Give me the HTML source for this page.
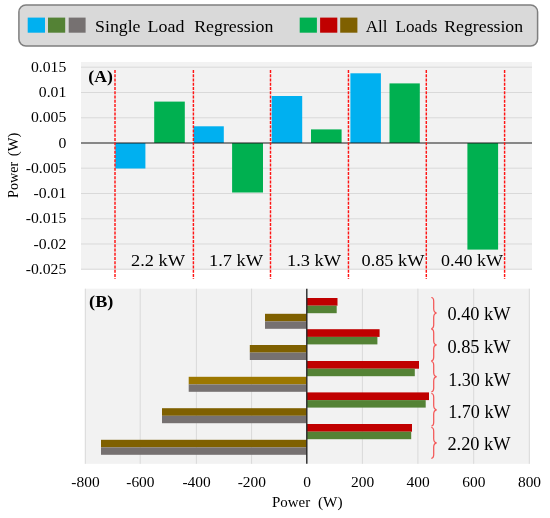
<!DOCTYPE html>
<html lang="en"><head><meta charset="utf-8"><title>Regression power chart</title>
<style>html,body{margin:0;padding:0;background:#fff}svg{display:block}</style></head>
<body>
<svg width="550" height="518" viewBox="0 0 550 518" font-family='"Liberation Serif", "Times New Roman", serif' fill="#000">
<rect width="550" height="518" fill="#fff"/>
<g id="legend">
<rect x="18.9" y="4.9" width="518.7" height="41.2" rx="7" ry="7" fill="#d9d9d9" stroke="#7f7f7f" stroke-width="1.5"/>
<rect x="27.7" y="17.6" width="17.3" height="15.1" fill="#00b0f0"/>
<rect x="48.0" y="17.6" width="17.2" height="15.1" fill="#548235"/>
<rect x="68.7" y="17.6" width="16.9" height="15.1" fill="#767171"/>
<rect x="299.7" y="17.6" width="17.2" height="15.1" fill="#00b050"/>
<rect x="320.1" y="17.6" width="17.2" height="15.1" fill="#c00000"/>
<rect x="340.2" y="17.6" width="17.2" height="15.1" fill="#7f6000"/>
<text x="95.1" y="31.8" font-size="17.7" textLength="45.4" lengthAdjust="spacingAndGlyphs">Single</text>
<text x="147.6" y="31.8" font-size="17.7" textLength="36.8" lengthAdjust="spacingAndGlyphs">Load</text>
<text x="194.2" y="31.8" font-size="17.7" textLength="79.2" lengthAdjust="spacingAndGlyphs">Regression</text>
<text x="365.8" y="31.8" font-size="17.7" textLength="21.8" lengthAdjust="spacingAndGlyphs">All</text>
<text x="395.6" y="31.8" font-size="17.7" textLength="41.8" lengthAdjust="spacingAndGlyphs">Loads</text>
<text x="444.3" y="31.8" font-size="17.7" textLength="78.8" lengthAdjust="spacingAndGlyphs">Regression</text>
</g>
<g id="plotA">
<rect x="81" y="62" width="451" height="207.89999999999998" fill="#f2f2f2"/>
<line x1="81" x2="532" y1="67.2" y2="67.2" stroke="#d9d9d9" stroke-width="1"/>
<text transform="translate(66.3,71.8) scale(1.085,1)" font-size="14.5" text-anchor="end">0.015</text>
<line x1="81" x2="532" y1="92.5" y2="92.5" stroke="#d9d9d9" stroke-width="1"/>
<text transform="translate(66.3,97.1) scale(1.085,1)" font-size="14.5" text-anchor="end">0.01</text>
<line x1="81" x2="532" y1="117.8" y2="117.8" stroke="#d9d9d9" stroke-width="1"/>
<text transform="translate(66.3,122.3) scale(1.085,1)" font-size="14.5" text-anchor="end">0.005</text>
<text transform="translate(66.3,147.6) scale(1.085,1)" font-size="14.5" text-anchor="end">0</text>
<line x1="81" x2="532" y1="168.2" y2="168.2" stroke="#d9d9d9" stroke-width="1"/>
<text transform="translate(66.3,172.8) scale(1.085,1)" font-size="14.5" text-anchor="end">-0.005</text>
<line x1="81" x2="532" y1="193.5" y2="193.5" stroke="#d9d9d9" stroke-width="1"/>
<text transform="translate(66.3,198.1) scale(1.085,1)" font-size="14.5" text-anchor="end">-0.01</text>
<line x1="81" x2="532" y1="218.8" y2="218.8" stroke="#d9d9d9" stroke-width="1"/>
<text transform="translate(66.3,223.3) scale(1.085,1)" font-size="14.5" text-anchor="end">-0.015</text>
<line x1="81" x2="532" y1="244.0" y2="244.0" stroke="#d9d9d9" stroke-width="1"/>
<text transform="translate(66.3,248.6) scale(1.085,1)" font-size="14.5" text-anchor="end">-0.02</text>
<line x1="81" x2="532" y1="269.2" y2="269.2" stroke="#d9d9d9" stroke-width="1"/>
<text transform="translate(66.3,273.9) scale(1.085,1)" font-size="14.5" text-anchor="end">-0.025</text>
<rect x="115.3" y="143.0" width="30.1" height="25.5" fill="#00b0f0"/>
<rect x="154.2" y="101.6" width="30.6" height="41.4" fill="#00b050"/>
<rect x="193.5" y="126.3" width="30.3" height="16.7" fill="#00b0f0"/>
<rect x="232.1" y="143.0" width="30.9" height="49.5" fill="#00b050"/>
<rect x="271.7" y="96.0" width="30.5" height="47.0" fill="#00b0f0"/>
<rect x="311.0" y="129.4" width="30.6" height="13.6" fill="#00b050"/>
<rect x="350.4" y="73.3" width="30.5" height="69.7" fill="#00b0f0"/>
<rect x="389.5" y="83.4" width="30.3" height="59.6" fill="#00b050"/>
<rect x="467.4" y="143.0" width="30.7" height="106.6" fill="#00b050"/>
<line x1="81" x2="532" y1="143.0" y2="143.0" stroke="#1c1c1c" stroke-width="1.2"/>
<line x1="115" x2="115" y1="70" y2="278.9" stroke="#ff1414" stroke-width="1.45" stroke-dasharray="3.1 1.15"/>
<line x1="193.4" x2="193.4" y1="70" y2="278.9" stroke="#ff1414" stroke-width="1.45" stroke-dasharray="3.1 1.15"/>
<line x1="270.5" x2="270.5" y1="70" y2="278.9" stroke="#ff1414" stroke-width="1.45" stroke-dasharray="3.1 1.15"/>
<line x1="348.45" x2="348.45" y1="70" y2="278.9" stroke="#ff1414" stroke-width="1.45" stroke-dasharray="3.1 1.15"/>
<line x1="426.3" x2="426.3" y1="70" y2="278.9" stroke="#ff1414" stroke-width="1.45" stroke-dasharray="3.1 1.15"/>
<line x1="504.6" x2="504.6" y1="70" y2="278.9" stroke="#ff1414" stroke-width="1.45" stroke-dasharray="3.1 1.15"/>
<text x="131" y="266.1" font-size="17.2" textLength="54.0" lengthAdjust="spacingAndGlyphs">2.2 kW</text>
<text x="209" y="266.1" font-size="17.2" textLength="54.0" lengthAdjust="spacingAndGlyphs">1.7 kW</text>
<text x="287" y="266.1" font-size="17.2" textLength="54.0" lengthAdjust="spacingAndGlyphs">1.3 kW</text>
<text x="361.5" y="266.1" font-size="17.2" textLength="62.9" lengthAdjust="spacingAndGlyphs">0.85 kW</text>
<text x="441" y="266.1" font-size="17.2" textLength="62.0" lengthAdjust="spacingAndGlyphs">0.40 kW</text>
<text transform="translate(88.3,82.1) scale(1.055,1)" font-size="16.8" font-weight="bold">(A)</text>
<text transform="translate(18.2,197.9) rotate(-90)" font-size="14.3" textLength="36.2" lengthAdjust="spacingAndGlyphs">Power</text>
<text transform="translate(18.2,156.2) rotate(-90)" font-size="14.3" textLength="23.6" lengthAdjust="spacingAndGlyphs">(W)</text>
</g>
<g id="plotB">
<rect x="84.9" y="288.7" width="445.0" height="175.10000000000002" fill="#f2f2f2"/>
<line x1="85.3" x2="85.3" y1="288.7" y2="463.8" stroke="#d9d9d9" stroke-width="1"/>
<text transform="translate(85.5,487.1) scale(1.065,1)" font-size="14.5" text-anchor="middle">-800</text>
<line x1="140.2" x2="140.2" y1="288.7" y2="463.8" stroke="#d9d9d9" stroke-width="1"/>
<text transform="translate(140.4,487.1) scale(1.065,1)" font-size="14.5" text-anchor="middle">-600</text>
<line x1="196.4" x2="196.4" y1="288.7" y2="463.8" stroke="#d9d9d9" stroke-width="1"/>
<text transform="translate(196.6,487.1) scale(1.065,1)" font-size="14.5" text-anchor="middle">-400</text>
<line x1="251.6" x2="251.6" y1="288.7" y2="463.8" stroke="#d9d9d9" stroke-width="1"/>
<text transform="translate(251.8,487.1) scale(1.065,1)" font-size="14.5" text-anchor="middle">-200</text>
<text transform="translate(307.0,487.1) scale(1.065,1)" font-size="14.5" text-anchor="middle">0</text>
<line x1="362.4" x2="362.4" y1="288.7" y2="463.8" stroke="#d9d9d9" stroke-width="1"/>
<text transform="translate(362.6,487.1) scale(1.065,1)" font-size="14.5" text-anchor="middle">200</text>
<line x1="417.9" x2="417.9" y1="288.7" y2="463.8" stroke="#d9d9d9" stroke-width="1"/>
<text transform="translate(418.1,487.1) scale(1.065,1)" font-size="14.5" text-anchor="middle">400</text>
<line x1="473.7" x2="473.7" y1="288.7" y2="463.8" stroke="#d9d9d9" stroke-width="1"/>
<text transform="translate(473.9,487.1) scale(1.065,1)" font-size="14.5" text-anchor="middle">600</text>
<line x1="529.3" x2="529.3" y1="288.7" y2="463.8" stroke="#d9d9d9" stroke-width="1"/>
<text transform="translate(529.5,487.1) scale(1.065,1)" font-size="14.5" text-anchor="middle">800</text>
<rect x="306.8" y="298.0" width="30.7" height="7.7" fill="#c00000"/>
<rect x="306.8" y="305.7" width="29.9" height="7.5" fill="#548235"/>
<rect x="265.0" y="313.8" width="41.8" height="7.6" fill="#7f6000"/>
<rect x="265.0" y="321.4" width="41.8" height="7.4" fill="#767171"/>
<rect x="306.8" y="329.2" width="72.8" height="7.7" fill="#c00000"/>
<rect x="306.8" y="336.9" width="70.6" height="7.5" fill="#548235"/>
<rect x="249.8" y="345.0" width="57.0" height="7.6" fill="#7f6000"/>
<rect x="249.8" y="352.6" width="57.0" height="7.4" fill="#767171"/>
<rect x="306.8" y="361.0" width="112.2" height="7.7" fill="#c00000"/>
<rect x="306.8" y="368.7" width="108.0" height="7.5" fill="#548235"/>
<rect x="188.7" y="376.8" width="118.1" height="7.6" fill="#9c7700"/>
<rect x="188.7" y="384.4" width="118.1" height="7.4" fill="#767171"/>
<rect x="306.8" y="392.4" width="122.2" height="7.7" fill="#c00000"/>
<rect x="306.8" y="400.1" width="118.9" height="7.5" fill="#548235"/>
<rect x="162.0" y="408.2" width="144.8" height="7.6" fill="#7f6000"/>
<rect x="162.0" y="415.8" width="144.8" height="7.4" fill="#767171"/>
<rect x="306.8" y="424.0" width="105.2" height="7.7" fill="#c00000"/>
<rect x="306.8" y="431.7" width="104.4" height="7.5" fill="#548235"/>
<rect x="101.0" y="439.8" width="205.8" height="7.6" fill="#7f6000"/>
<rect x="101.0" y="447.4" width="205.8" height="7.4" fill="#767171"/>
<line x1="306.8" x2="306.8" y1="288.7" y2="463.8" stroke="#262626" stroke-width="1.4"/>
<path d="M431.3,297.5 q2.4,0.2 2.4,3.8 V308.8 q0,3.6 2.9,4.2 q-2.9,0.6 -2.9,4.2 V324.7 q0,3.5999999999999996 -2.4,3.8" fill="none" stroke="#f45858" stroke-width="1.25"/>
<path d="M431.3,329.1 q2.4,0.2 2.4,3.8 V340.7 q0,3.6 2.9,4.2 q-2.9,0.6 -2.9,4.2 V356.9 q0,3.5999999999999996 -2.4,3.8" fill="none" stroke="#f45858" stroke-width="1.25"/>
<path d="M431.3,361.5 q2.4,0.2 2.4,3.8 V372.5 q0,3.6 2.9,4.2 q-2.9,0.6 -2.9,4.2 V388.1 q0,3.5999999999999996 -2.4,3.8" fill="none" stroke="#f45858" stroke-width="1.25"/>
<path d="M431.3,393.5 q2.4,0.2 2.4,3.8 V405.6 q0,3.6 2.9,4.2 q-2.9,0.6 -2.9,4.2 V422.2 q0,3.5999999999999996 -2.4,3.8" fill="none" stroke="#f45858" stroke-width="1.25"/>
<path d="M431.3,427.5 q2.4,0.2 2.4,3.8 V438.7 q0,3.6 2.9,4.2 q-2.9,0.6 -2.9,4.2 V454.5 q0,3.5999999999999996 -2.4,3.8" fill="none" stroke="#f45858" stroke-width="1.25"/>
<text x="447.4" y="320.2" font-size="17.8" textLength="63.2" lengthAdjust="spacingAndGlyphs">0.40 kW</text>
<text x="447.4" y="352.5" font-size="17.8" textLength="63.2" lengthAdjust="spacingAndGlyphs">0.85 kW</text>
<text x="448.2" y="385.5" font-size="17.8" textLength="62.4" lengthAdjust="spacingAndGlyphs">1.30 kW</text>
<text x="448.2" y="417.8" font-size="17.8" textLength="62.4" lengthAdjust="spacingAndGlyphs">1.70 kW</text>
<text x="447.4" y="450.1" font-size="17.8" textLength="63.2" lengthAdjust="spacingAndGlyphs">2.20 kW</text>
<text transform="translate(89.1,307.4) scale(1.09,1)" font-size="16.7" font-weight="bold">(B)</text>
<text x="272" y="507" font-size="15" textLength="38.2" lengthAdjust="spacingAndGlyphs">Power</text>
<text x="318" y="507" font-size="15" textLength="24.7" lengthAdjust="spacingAndGlyphs">(W)</text>
</g>
</svg>
</body></html>
